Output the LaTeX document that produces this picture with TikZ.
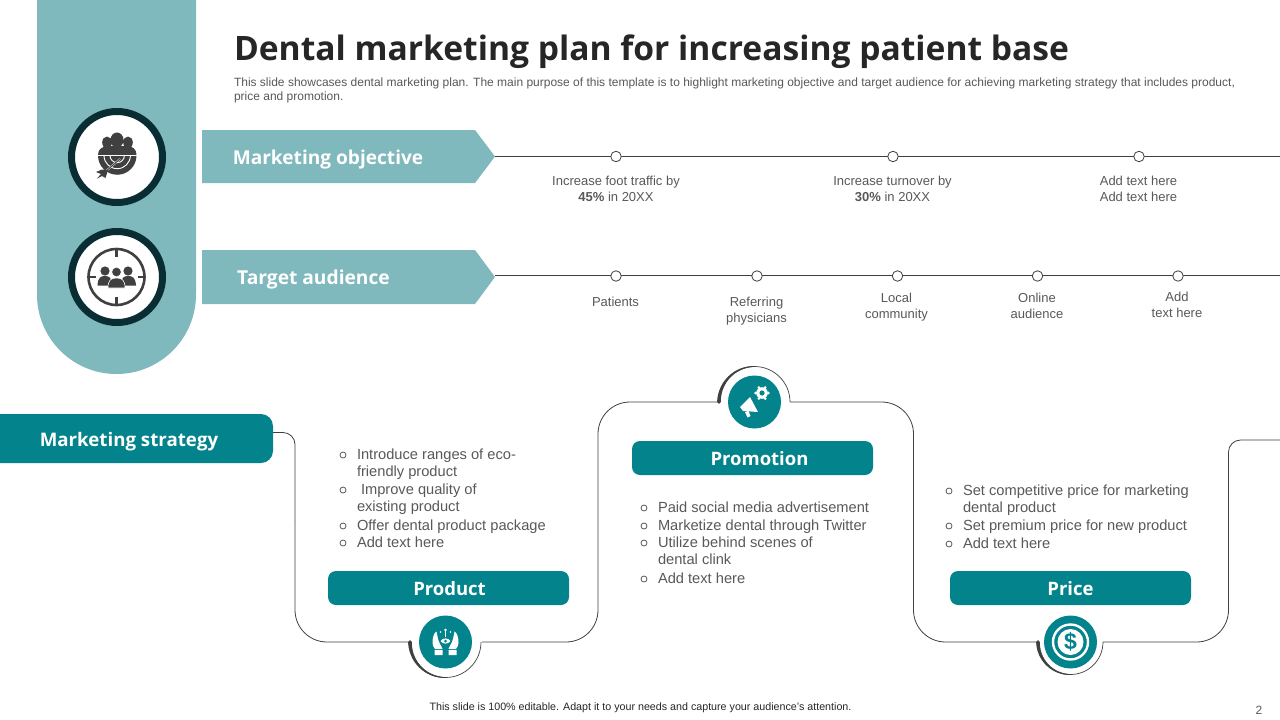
\documentclass[tikz,border=0pt]{standalone}
\usepackage{fontspec}
\setmainfont{Liberation Sans}
\newfontfamily\headfont{Open Sans}
\definecolor{sidebar}{HTML}{7FB8BD}
\definecolor{tealbox}{HTML}{03838B}
\definecolor{darkring}{HTML}{0A2D33}
\definecolor{bodytext}{HTML}{595959}
\definecolor{titletext}{HTML}{262626}
\definecolor{linegrey}{HTML}{404040}
\definecolor{icongrey}{HTML}{404040}
\tikzset{
  plain/.style={inner sep=0pt,outer sep=0pt},
  body/.style={plain,text=bodytext,font=\fontsize{13}{16}\selectfont,align=center},
  bullettext/.style={plain,text=bodytext,font=\fontsize{14.66}{17.7}\selectfont,align=left,anchor=north west},
  bulletring/.style={circle,draw=bodytext,line width=0.8pt,minimum size=6pt,inner sep=0pt},
  headtext/.style={plain,text=white,font=\headfont\bfseries\fontsize{19.1}{24}\selectfont},
  tealtitle/.style={plain,fill=tealbox,text=white,rounded corners=8pt,minimum width=241pt,minimum height=34pt,text height=15.5pt,text depth=0pt,font=\headfont\bfseries\fontsize{18.5}{22}\selectfont},
  dotnode/.style={circle,draw=linegrey,fill=white,line width=0.8pt,minimum size=10.5pt,inner sep=0pt},
  iconring/.style={circle,draw=darkring,fill=white,line width=7pt,minimum size=91pt,inner sep=0pt},
  tealdisc/.style={circle,fill=tealbox,minimum size=53pt,inner sep=0pt},
  conn/.style={draw=linegrey,line width=0.8pt,rounded corners=32pt},
  rail/.style={draw=linegrey,line width=0.9pt},
}
\newcommand{\bitem}[4]{%
  \node[bulletring] (#1r) at (#2-14,#3+6.5) {};
  \node[bullettext] (#1) at (#2,#3) {#4};
}
\newcommand{\taper}[6]{%
  \draw[linegrey,line width=0.7pt] ([shift={(#4:#3)}]#1,#2) arc[start angle=#4,end angle=#6,radius=#3];
  \foreach \i in {0,...,29}{
    \pgfmathsetmacro{\aa}{#4+(#5-#4)*\i/30}
    \pgfmathsetmacro{\ab}{#4+(#5-#4)*(\i+1)/30}
    \pgfmathsetmacro{\ww}{3.6-2.9*\i/30}
    \draw[linegrey,line width=\ww pt,line cap=round] ([shift={(\aa:#3)}]#1,#2) arc[start angle=\aa,end angle=\ab,radius=#3];
  }
}
\begin{document}
\begin{tikzpicture}[x=1pt,y=-1pt]
\useasboundingbox (0,0) rectangle (1280,720);
\fill[white] (0,0) rectangle (1280,720);

% sidebar
\fill[sidebar] (37,0) -- (196,0) -- (196,294.5) arc[start angle=0,end angle=180,radius=79.5] -- cycle;

% title
\node[plain,anchor=base west,text=titletext,font=\headfont\bfseries\fontsize{33.6}{40}\selectfont] (title) at (234,60) {Dental marketing plan for increasing patient base};
\node[plain,anchor=north west,text=bodytext,align=left,font=\fontsize{12}{14.3}\selectfont] (sub) at (234,77.5) {This slide showcases dental marketing plan. The main purpose of this template is to highlight marketing objective and target audience for achieving marketing strategy that includes product,\\price and promotion.};

% rails
\coordinate (r1end) at (1280,156);
\coordinate (r2end) at (1280,275.5);
\coordinate (r1start) at (495,156);
\coordinate (r2start) at (495,275.5);
\draw[rail] (r1start) -- (r1end);
\draw[rail] (r2start) -- (r2end);

% arrow banners
\fill[sidebar] (202,130) -- (475,130) -- (495,156.5) -- (475,183) -- (202,183) -- cycle;
\fill[sidebar] (202,250) -- (475,250) -- (495,277) -- (475,304) -- (202,304) -- cycle;
\node[headtext] (objective) at (328,160) {Marketing objective};
\node[headtext,font=\headfont\bfseries\fontsize{19.2}{24}\selectfont] (audience) at (313.5,279.5) {Target audience};

% dots and captions
\node[dotnode] (o1) at (616,156.5) {};
\node[dotnode] (o2) at (893,156.5) {};
\node[dotnode] (o3) at (1139,156.5) {};
\node[body] (ot1) at (616,188.5) {Increase foot traffic by\\\textbf{45\%} in 20XX};
\node[body] (ot2) at (892.5,188.5) {Increase turnover by\\\textbf{30\%} in 20XX};
\node[body] (ot3) at (1138.5,188.5) {Add text here\\Add text here};
\node[dotnode] (a1) at (616,276) {};
\node[dotnode] (a2) at (757,276) {};
\node[dotnode] (a3) at (897.5,276) {};
\node[dotnode] (a4) at (1037.5,276) {};
\node[dotnode] (a5) at (1178,276) {};
\node[body] (at1) at (615.5,301.5) {Patients};
\node[body] (at2) at (756.5,311) {Referring\\physicians};
\node[body] (at3) at (896.5,307.5) {Local\\community};
\node[body] (at4) at (1037,305.5) {Online\\audience};
\node[body] (at5) at (1177,304.5) {Add\\text here};

% side icons
\node[iconring] (ic1) at (117,157) {};
\node[iconring] (ic2) at (117,277) {};
% icon 1: people and target
\fill[icongrey] (107,142.5) ellipse (4.8 and 6) (128,142.5) ellipse (4.8 and 6) (117,140) ellipse (6.5 and 7.5);
\fill[icongrey] (98,155) .. controls (98,149) and (102,147) .. (107,146) -- (128,146) .. controls (133,147) and (136.5,149) .. (136.5,155) -- cycle;
\fill[icongrey] (98,155.5) -- (136.5,155.5) arc[start angle=0,end angle=180,radius=19.25] -- cycle;
\draw[white,line width=0.9pt] (98,155.5) -- (136.5,155.5);
\draw[white,line width=0.9pt] (104,155.5) arc[start angle=180,end angle=0,radius=13.2];
\draw[white,line width=0.9pt] (110,155.5) arc[start angle=180,end angle=0,radius=7.2];
\draw[white,line width=1.8pt] (120,159) -- (105,172);
\draw[icongrey,line width=1pt] (120,159) -- (105,172);
\fill[icongrey] (108,170) -- (102,169.5) -- (96,172) -- (101,174) -- (97,178.5) -- (102,176) -- (105.5,178) -- cycle;
% icon 2: audience in crosshair
\draw[icongrey,line width=2.6pt] (116.5,277) circle (28);
\draw[icongrey,line width=2.4pt] (116.5,248) -- (116.5,257) (116.5,297) -- (116.5,306) (87.5,277) -- (95.5,277) (137.5,277) -- (145.5,277);
\fill[icongrey] (105,271) circle (4.6) (128,271) circle (4.6);
\fill[icongrey] (97.5,285.5) .. controls (98,277) and (101,276) .. (105,276) .. controls (109,276) and (111,278) .. (112,281) -- (110,285.5) -- cycle;
\fill[icongrey] (136,285.5) .. controls (135.5,277) and (132,276) .. (128,276) .. controls (124,276) and (122,278) .. (121,281) -- (123,285.5) -- cycle;
\draw[white,line width=0.6pt,fill=icongrey] (116.5,272) circle (4.8);
\draw[white,line width=0.6pt,fill=icongrey] (108,288) .. controls (108,280) and (111,278) .. (116.5,278) .. controls (122,278) and (125,280) .. (125,288) -- cycle;

% strategy box
\fill[tealbox] (0,414) -- (261,414) arc[start angle=-90,end angle=0,radius=12] -- (273,451) arc[start angle=0,end angle=90,radius=12] -- (0,463) -- cycle;
\node[headtext,font=\headfont\bfseries\fontsize{18.7}{24}\selectfont] (strategy) at (129,442) {Marketing strategy};

% connector segments
\coordinate (s0) at (273,432.5);
\coordinate (s1) at (295,432.5);
\coordinate (s2) at (295,642);
\coordinate (s3) at (410,642);
\coordinate (s4) at (482,642);
\coordinate (s5) at (598,642);
\coordinate (s6) at (598,402);
\coordinate (s7) at (718,402);
\coordinate (s8) at (790,402);
\coordinate (s9) at (913.5,402);
\coordinate (s10) at (913.5,642);
\coordinate (s11) at (1037,642);
\coordinate (s12) at (1103,642);
\coordinate (s13) at (1228.5,642);
\coordinate (s14) at (1228.5,440);
\coordinate (s15) at (1280,440);
\draw[draw=linegrey,line width=0.8pt,rounded corners=12pt] (s0) -- (s1) -- (295,520);
\draw[conn] (295,520) -- (s2) -- (s3);
\draw[conn] (s4) -- (s5) -- (s6) -- (s7);
\draw[conn] (s8) -- (s9) -- (s10) -- (s11);
\draw[conn] (s12) -- (s13) -- (1228.5,520);
\draw[draw=linegrey,line width=0.8pt,rounded corners=12pt] (1228.5,520) -- (s14) -- (s15);

% teal title boxes
\node[tealtitle] (product) at (448.5,588) {\hspace*{2pt}Product};
\node[tealtitle] (promotion) at (752.5,458) {\hspace*{14pt}Promotion};
\node[tealtitle] (price) at (1070.5,588) {Price};

% bullet lists
\bitem{p1}{357}{448.5}{Introduce ranges of eco-\\friendly product}
\bitem{p2}{357}{483.5}{\hspace*{4pt}Improve quality of\\existing product}
\bitem{p3}{357}{519.5}{Offer dental product package}
\bitem{p4}{357}{536.5}{Add text here}
\bitem{m1}{658}{501.5}{Paid social media advertisement}
\bitem{m2}{658}{519.5}{Marketize dental through Twitter}
\bitem{m3}{658}{536.5}{Utilize behind scenes of\\dental clink}
\bitem{m4}{658}{572.5}{Add text here}
\bitem{c1}{963}{484.5}{Set competitive price for marketing\\dental product}
\bitem{c2}{963}{519.5}{Set premium price for new product}
\bitem{c3}{963}{537.5}{Add text here}

% promotion icon
\taper{754.5}{402}{35.5}{180}{270}{360}
\node[tealdisc] (promoicon) at (754.5,402) {};
\fill[white] (740,407) -- (750,397) -- (758,412) -- (743,411) -- cycle;
\fill[white] (745,412) -- (748.5,411) -- (750.5,416) -- (747.5,417.5) -- cycle;
\fill[white] (762,393) circle (5.8);
\foreach \t in {0,60,...,300}{\fill[white] ([shift={(\t:6.4)}]762,393) circle (1.5);}
\fill[tealbox] (762,393) circle (2.6);

% product icon
\taper{445.5}{642}{35.5}{180}{90}{0}
\node[tealdisc] (prodicon) at (445.5,642) {};
\fill[white] (432.5,643) .. controls (432.5,637) and (434,633) .. (436.5,631.5) -- (438,639) .. controls (439,643) and (441,645) .. (442.5,649) -- (435,649) .. controls (433.5,647) and (432.5,645) .. (432.5,643) -- cycle;
\fill[white] (458.5,643) .. controls (458.5,637) and (457,633) .. (454.5,631.5) -- (453,639) .. controls (452,643) and (450,645) .. (448.5,649) -- (456,649) .. controls (457.5,647) and (458.5,645) .. (458.5,643) -- cycle;
\fill[white] (434.5,650) rectangle (442.5,655) (448.5,650) rectangle (456.5,655);
\fill[white] (440.5,641) .. controls (443,637.5) and (448,637.5) .. (450.5,641) .. controls (448,644.5) and (443,644.5) .. (440.5,641) -- cycle;
\fill[tealbox] (445.5,641) circle (1.5);
\fill[white] (445.5,630) circle (1.4) (440.5,632) circle (0.9) (450.5,632) circle (0.9);
\draw[white,line width=0.7pt] (445.5,630) -- (445.5,637);

% price icon
\taper{1070.5}{642}{32.5}{180}{90}{0}
\node[tealdisc] (priceicon) at (1070.5,642) {};
\draw[white,line width=2.4pt] (1070.5,642) circle (17.5);
\fill[white] (1070.5,642) circle (13);
\node[plain,text=tealbox,font=\bfseries\fontsize{23}{23}\selectfont] (dollar) at (1070.5,642) {\$};

% footer
\node[plain,text=titletext,font=\fontsize{10.7}{12}\selectfont] (footer) at (640.5,708) {This slide is 100\% editable. Adapt it to your needs and capture your audience's attention.};
\node[plain,text=bodytext,font=\fontsize{12}{14}\selectfont] (pageno) at (1259,710) {2};
\end{tikzpicture}
\end{document}
